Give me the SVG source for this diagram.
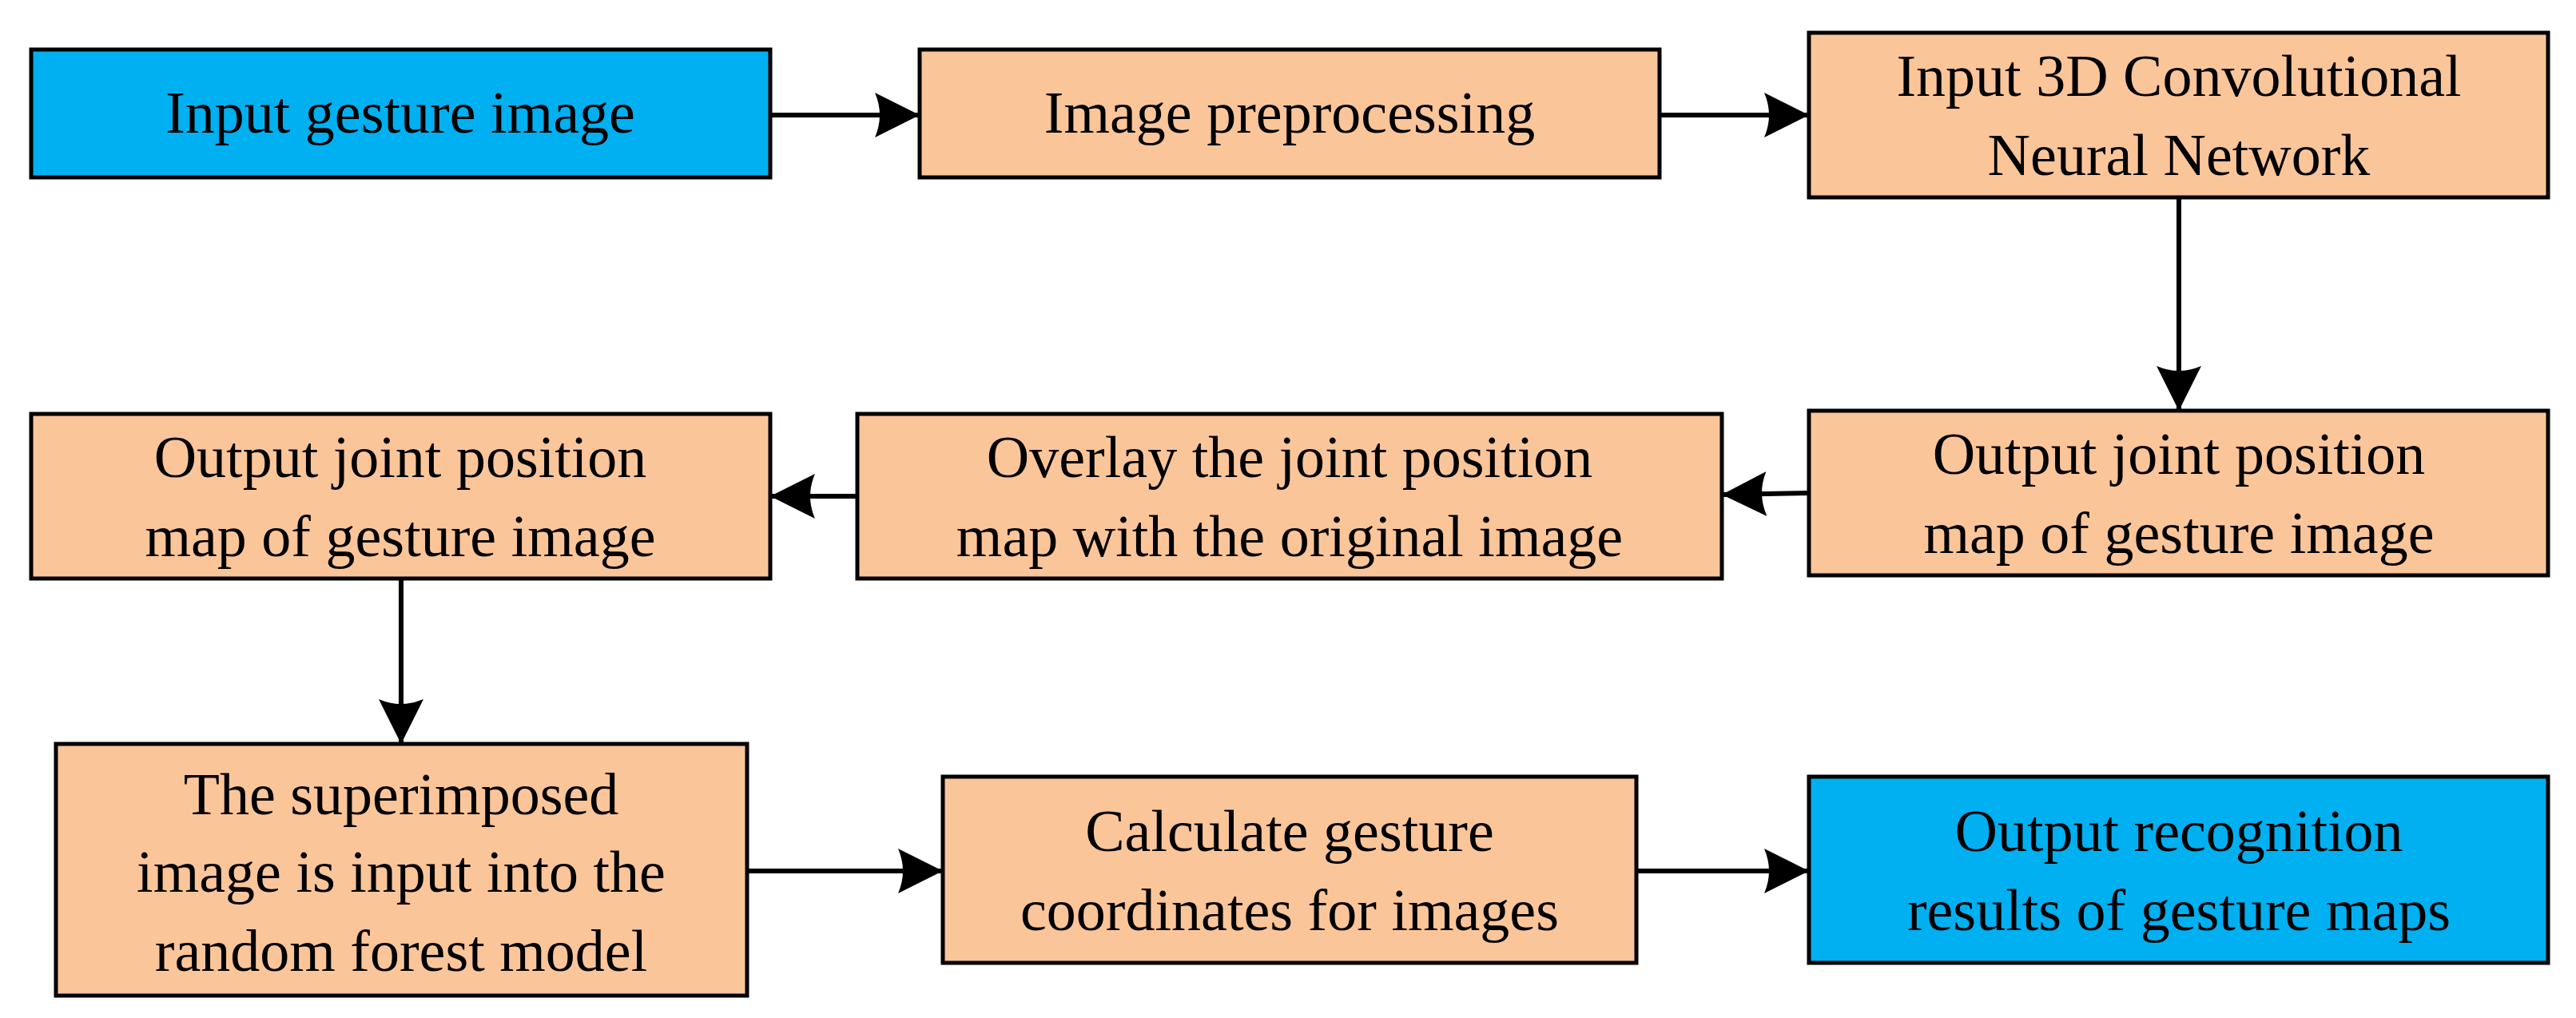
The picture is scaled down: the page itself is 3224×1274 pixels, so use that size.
<svg xmlns="http://www.w3.org/2000/svg" width="3224" height="1274" viewBox="0 0 3224 1274">
<style>
.b{stroke:#000;stroke-width:5}
.blue{fill:#00B0F0}
.or{fill:#FBC59A}
text{font-family:"Liberation Serif","Times New Roman",serif;font-size:74px;fill:#000;text-anchor:middle}
.c line{stroke:#000;stroke-width:6}
</style>
<defs>
<marker id="a" markerUnits="userSpaceOnUse" markerWidth="60" markerHeight="60" viewBox="-56 -30 60 60" refX="0" refY="0" orient="auto">
<path d="M0,0 L-56,-28 Q-44,0 -56,28 Z" fill="#000"/>
</marker>
</defs>
<rect width="3224" height="1274" fill="#fff"/>
<g id="n1"><rect class="b blue" x="39" y="62" width="925" height="160"/><text x="501" y="166">Input gesture image</text></g>
<g id="n2"><rect class="b or" x="1151" y="62" width="926" height="160"/><text x="1614" y="166">Image preprocessing</text></g>
<g id="n3"><rect class="b or" x="2264" y="41" width="925" height="206"/><text x="2727" y="120">Input 3D Convolutional</text><text x="2727" y="219">Neural Network</text></g>
<g id="n4"><rect class="b or" x="2264" y="514" width="925" height="206"/><text x="2727" y="593">Output joint position</text><text x="2727" y="692">map of gesture image</text></g>
<g id="n5"><rect class="b or" x="1073" y="518" width="1082" height="206"/><text x="1614" y="597">Overlay the joint position</text><text x="1614" y="696">map with the original image</text></g>
<g id="n6"><rect class="b or" x="39" y="518" width="925" height="206"/><text x="501" y="597">Output joint position</text><text x="501" y="696">map of gesture image</text></g>
<g id="n7"><rect class="b or" x="70" y="931" width="865" height="315"/><text x="502" y="1019">The superimposed</text><text x="502" y="1116">image is input into the</text><text x="502" y="1215">random forest model</text></g>
<g id="n8"><rect class="b or" x="1180" y="972" width="868" height="233"/><text x="1614" y="1065">Calculate gesture</text><text x="1614" y="1164">coordinates for images</text></g>
<g id="n9"><rect class="b blue" x="2264" y="972" width="925" height="233"/><text x="2727" y="1065">Output recognition</text><text x="2727" y="1164">results of gesture maps</text></g>
<g id="connectors" class="c">
<line x1="964" y1="144" x2="1151" y2="144" marker-end="url(#a)"/>
<line x1="2077" y1="144" x2="2264" y2="144" marker-end="url(#a)"/>
<line x1="2727" y1="247" x2="2727" y2="514" marker-end="url(#a)"/>
<line x1="2264" y1="617" x2="2155" y2="619" marker-end="url(#a)"/>
<line x1="1073" y1="621" x2="964" y2="621" marker-end="url(#a)"/>
<line x1="502" y1="724" x2="502" y2="931" marker-end="url(#a)"/>
<line x1="935" y1="1090" x2="1180" y2="1090" marker-end="url(#a)"/>
<line x1="2048" y1="1090" x2="2264" y2="1090" marker-end="url(#a)"/>
</g>
</svg>
